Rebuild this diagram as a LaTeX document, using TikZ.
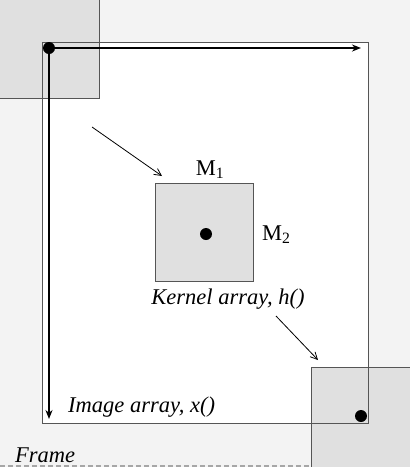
\documentclass[tikz,border=0pt]{standalone}
\usepackage{fontspec}
\setmainfont{Liberation Serif}
\usetikzlibrary{arrows.meta}
\definecolor{bg}{HTML}{F3F3F3}
\definecolor{kern}{HTML}{E0E0E0}
\definecolor{edge}{HTML}{555555}
\tikzset{
  kernelbox/.style={fill=kern, draw=edge, line width=1pt},
  thickarrow/.style={line width=2.6pt, -{Stealth[length=9pt,width=7pt]}},
  thinarrow/.style={line width=0.8pt, -{Straight Barb[length=7pt,width=7pt]}},
  dotnode/.style={circle, fill=black, inner sep=0pt, minimum size=12pt},
  lbl/.style={font=\fontsize{22.5}{26}\selectfont, inner sep=0pt}
}
\begin{document}
\begin{tikzpicture}[x=1pt,y=-1pt]
\useasboundingbox (0,0) rectangle (410,467);
\fill[bg] (0,0) rectangle (410,467);
% image array fill
\fill[white] (42,42) rectangle (368,423);
% corner kernels
\path[kernelbox] (-5,-5) -- (99,-5) -- (99,98) -- (-5,98);
\fill[kern] (311,367) rectangle (415,472);
\draw[edge, line width=1pt] (311,472) -- (311,367) -- (415,367);
% image array border
\draw[edge, line width=1pt] (42,42) rectangle (368,423);
% frame dashed line
\draw[gray!70, line width=1.5pt, dash pattern=on 5pt off 3pt] (0,466) -- (311,466);
% center kernel
\node[kernelbox, minimum width=98pt, minimum height=98pt, inner sep=0pt] (kern) at (204,232) {};
\node[dotnode] (kdot) at (206,234) {};
\node[lbl, anchor=base] (m1) at (210,175) {M\textsubscript{1}};
\node[lbl, anchor=base west] (m2) at (262,240) {M\textsubscript{2}};
\node[lbl, anchor=base] (klbl) at (228,304) {\itshape Kernel array, h()};
\node[lbl, anchor=base west] (ilbl) at (68,412) {\itshape Image array, x()};
\node[lbl, anchor=base west] (flbl) at (15,462) {\itshape Frame};
% dots and main axes
\node[dotnode] (o) at (49,48) {};
\coordinate (xend) at (361,48);
\coordinate (yend) at (49,419);
\draw[thickarrow] (o.center) -- (xend);
\draw[thickarrow] (o.center) -- (yend);
\node[dotnode] (bdot) at (361,416) {};
% thin arrows
\coordinate (a1s) at (92,127);
\coordinate (a1e) at (162,176);
\coordinate (a2s) at (276,316);
\coordinate (a2e) at (318,360);
\draw[thinarrow] (a1s) -- (a1e);
\draw[thinarrow] (a2s) -- (a2e);
\end{tikzpicture}
\end{document}
